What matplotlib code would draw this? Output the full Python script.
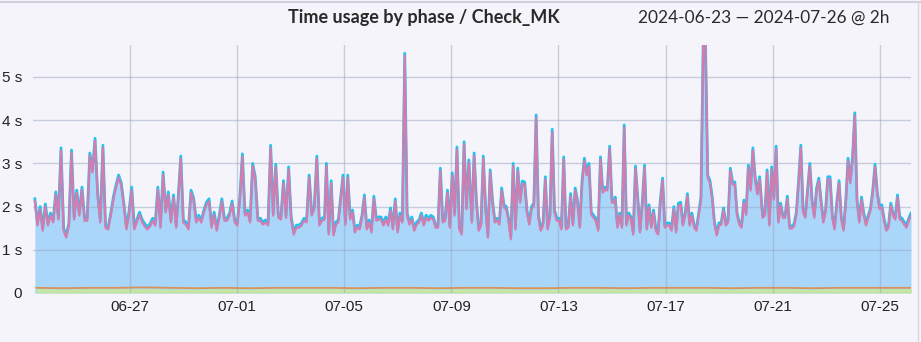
import numpy as np
import pandas as pd
import matplotlib
matplotlib.use("Agg")
import matplotlib.pyplot as plt
import matplotlib.dates as mdates
import matplotlib.transforms as mtransforms
from matplotlib.lines import Line2D

# total time per check run (s), ~2h steps, in six stretches
top_a = [2.18, 1.62, 2.0, 1.5, 2.06, 1.62, 1.85, 1.69, 2.34, 1.76, 3.36, 1.5, 1.34, 1.62, 3.31,
         1.76, 2.38, 1.85, 2.45, 1.73, 1.73, 3.24, 2.85, 3.58, 2.3, 1.69, 3.42, 1.57, 1.53, 1.85,
         2.22, 2.5, 2.73, 2.55, 2.08, 1.53, 1.9, 2.45, 1.53, 1.7, 1.87, 1.7, 1.6, 1.53, 1.6,
         1.73, 1.62, 2.45, 1.57, 2.8, 1.92, 2.34, 1.69, 2.27, 1.57]
top_b = [2.22, 3.17, 1.69, 1.64, 1.53, 2.38, 2.2, 1.69, 1.8, 1.69, 1.92, 2.1, 2.18, 1.57, 1.87,
         1.5, 1.8, 2.18, 1.73, 1.73, 1.85, 2.13, 1.69, 1.62, 2.22, 3.22, 1.85, 1.92, 1.69, 3.0,
         2.69, 1.73, 1.73, 1.64, 1.69, 1.62, 3.42, 1.85, 2.98, 1.8, 1.76, 2.6, 1.8, 2.92, 1.76,
         1.41, 1.57, 1.57, 1.62, 1.73, 1.69, 2.73, 1.85, 2.0, 3.17, 1.62, 1.73, 1.76]
top_c = [3.0, 1.41, 2.6, 1.39, 1.64, 1.69, 2.2, 2.73, 1.64, 2.73, 1.76, 1.92, 1.46, 1.57, 1.53,
         1.8, 2.27, 1.53, 1.69, 1.46, 2.24, 1.73, 1.76, 1.76, 1.62, 1.76, 1.62, 1.97, 1.53, 2.18,
         1.46, 1.85, 1.69, 5.55, 1.85, 1.64, 1.76, 1.5, 1.64, 1.69, 1.85, 1.62, 1.8, 1.73, 1.8,
         1.76, 1.57, 1.57, 2.89, 1.69, 1.73, 2.38, 1.57, 2.78, 1.85, 3.38, 1.53, 1.41, 3.5, 2.0,
         3.08]
top_d = [1.69, 3.24, 2.15, 1.5, 1.62, 3.17, 2.0, 1.34, 2.85, 2.15, 1.69, 1.73, 1.64, 2.43, 2.04,
         2.0, 1.73, 1.3, 3.0, 1.53, 2.89, 2.15, 2.59, 2.57, 1.92, 1.64, 2.0, 2.08, 4.12, 1.8,
         1.5, 1.62, 2.69, 1.53, 1.8, 3.79, 1.92, 1.73, 1.73, 1.53, 3.15, 1.53, 1.57, 2.3, 1.62,
         2.43, 2.15, 1.57, 2.6, 3.12, 2.78, 3.0, 1.87, 1.8, 1.73, 1.5, 3.15, 2.38, 2.45, 2.43,
         3.4, 2.15, 2.15]
top_e = [2.22, 1.57, 1.85, 1.57, 3.89, 1.62, 1.85, 1.76, 1.41, 2.94, 2.22, 1.46, 2.1, 2.96, 1.53,
         2.04, 1.57, 1.92, 1.5, 1.41, 2.15, 2.66, 1.57, 1.62, 1.62, 1.5, 2.0, 1.46, 2.08, 2.1,
         1.62, 1.85, 2.3, 1.62, 1.85, 1.57, 1.5, 1.85, 2.22, 5.8, 5.8, 2.73, 2.6, 2.22, 1.64,
         1.39, 1.62, 1.64, 1.97, 1.62, 1.69, 2.89, 2.57, 2.57, 1.85, 1.64, 1.57, 2.15, 1.87, 2.96,
         2.43, 3.36, 2.69, 2.34, 2.69]
top_f = [1.8, 1.85, 2.85, 1.62, 2.92, 2.22, 3.4, 1.69, 2.08, 1.8, 1.8, 2.24, 1.55, 1.55, 1.6,
         1.87, 2.6, 3.42, 1.92, 1.8, 2.4, 3.0, 2.15, 1.8, 2.43, 2.66, 2.15, 1.69, 1.92, 2.69,
         2.69, 1.8, 1.53, 2.1, 2.6, 1.76, 1.5, 2.15, 3.12, 2.6, 3.15, 4.17, 2.15, 1.69, 2.22,
         1.85, 1.62, 1.8, 1.97, 2.38, 2.98, 2.34, 2.0, 2.04, 1.73, 1.5, 1.57, 2.08, 1.85, 1.76,
         2.27, 1.76, 1.73, 1.64, 1.57, 1.73, 1.85]

# time span of each stretch
seg_start = ["2024-06-23 10:40", "2024-06-28 19:10", "2024-07-04 08:00",
             "2024-07-09 18:20", "2024-07-15 02:50", "2024-07-20 15:00"]
seg_end = ["2024-06-28 17:20", "2024-07-04 06:20", "2024-07-09 15:40",
           "2024-07-15 02:00", "2024-07-20 12:20", "2024-07-26 04:00"]

# small bottom phases, daily
orange_daily = [0.12, 0.11, 0.12, 0.12, 0.13, 0.12, 0.11, 0.12, 0.11, 0.12, 0.12, 0.12, 0.11, 0.12,
                0.12, 0.11, 0.12, 0.12, 0.11, 0.11, 0.12, 0.12, 0.11, 0.12, 0.12, 0.12, 0.11, 0.12,
                0.12, 0.11, 0.12, 0.12, 0.12, 0.12]
green_daily = [0.1, 0.09, 0.1, 0.1, 0.1, 0.09, 0.09, 0.1, 0.09, 0.1, 0.1, 0.1, 0.09, 0.1,
               0.1, 0.09, 0.1, 0.1, 0.09, 0.09, 0.1, 0.1, 0.09, 0.1, 0.1, 0.1, 0.09, 0.1,
               0.1, 0.09, 0.1, 0.1, 0.1, 0.1]

title = "Time usage by phase / Check_MK"
date_range = "2024-06-23 \u2014 2024-07-26 @ 2h"
yticks = [0, 1, 2, 3, 4, 5]
ylabels = ["0", "1 s", "2 s", "3 s", "4 s", "5 s"]
xticks = ["2024-06-27", "2024-07-01", "2024-07-05", "2024-07-09",
          "2024-07-13", "2024-07-17", "2024-07-21", "2024-07-25"]

segs = [top_a, top_b, top_c, top_d, top_e, top_f]
top = np.concatenate(segs)
t = pd.DatetimeIndex(np.concatenate(
    [pd.date_range(s, e, periods=len(v)).values for s, e, v in zip(seg_start, seg_end, segs)]))
t_daily = pd.date_range("2024-06-23 12:00", periods=len(orange_daily), freq="D")

bg = "#f4f4fa"
fig = plt.figure(figsize=(9.21, 3.42), dpi=100, facecolor=bg)
ax = fig.add_axes([33 / 921, 1 - 293 / 342, (911 - 33) / 921, (293 - 45) / 342])
ax.set_facecolor(bg)

ax.fill_between(t, 0, top, color="#aad6f9", lw=0, zorder=1)
ax.fill_between(t_daily, 0, green_daily, color="#c6e7a4", lw=0, zorder=2)
ax.plot(t_daily, orange_daily, color="#d9925a", lw=1.3, zorder=3)
ax.plot(t, top, color="#1ec3f2", lw=2.0, zorder=4)
off = mtransforms.offset_copy(ax.transData, fig=fig, x=0, y=-2.5, units="dots")
ax.plot(t, top, color="#d27db0", lw=1.6, zorder=5, transform=off)

ax.set_xlim(pd.Timestamp("2024-06-23 09:00"), t[-1])
ax.set_ylim(0, 5.74)
ax.set_yticks(yticks)
ax.set_yticklabels(ylabels)
ax.set_xticks(pd.to_datetime(xticks))
ax.xaxis.set_major_formatter(mdates.DateFormatter("%m-%d"))

ax.grid(True, color="#9aa6c0", alpha=0.5, lw=1)
ax.set_axisbelow(False)
for s in ax.spines.values():
    s.set_visible(False)
ax.tick_params(length=0, labelsize=11, colors="#222222", labelfontfamily="Liberation Sans")
ax.tick_params(axis="y", pad=8)
ax.tick_params(axis="x", pad=5)

fig.text(424 / 921, 1 - 18 / 342, title, ha="center", va="center", fontsize=13,
         fontweight="bold", family="Lato", color="#2a2a2a")
fig.text(764 / 921, 1 - 18 / 342, date_range, ha="center", va="center", fontsize=12.4,
         family="Lato", color="#2a2a2a")

fig.add_artist(Line2D([0, 1], [1 - 2 / 342, 1 - 2 / 342], transform=fig.transFigure,
                      color="#d0d0dc", lw=1.5))
fig.add_artist(Line2D([918 / 921, 918 / 921], [0, 1 - 2 / 342], transform=fig.transFigure,
                      color="#d8d8e2", lw=1))

fig.savefig("out.png", dpi=100, facecolor=bg)
